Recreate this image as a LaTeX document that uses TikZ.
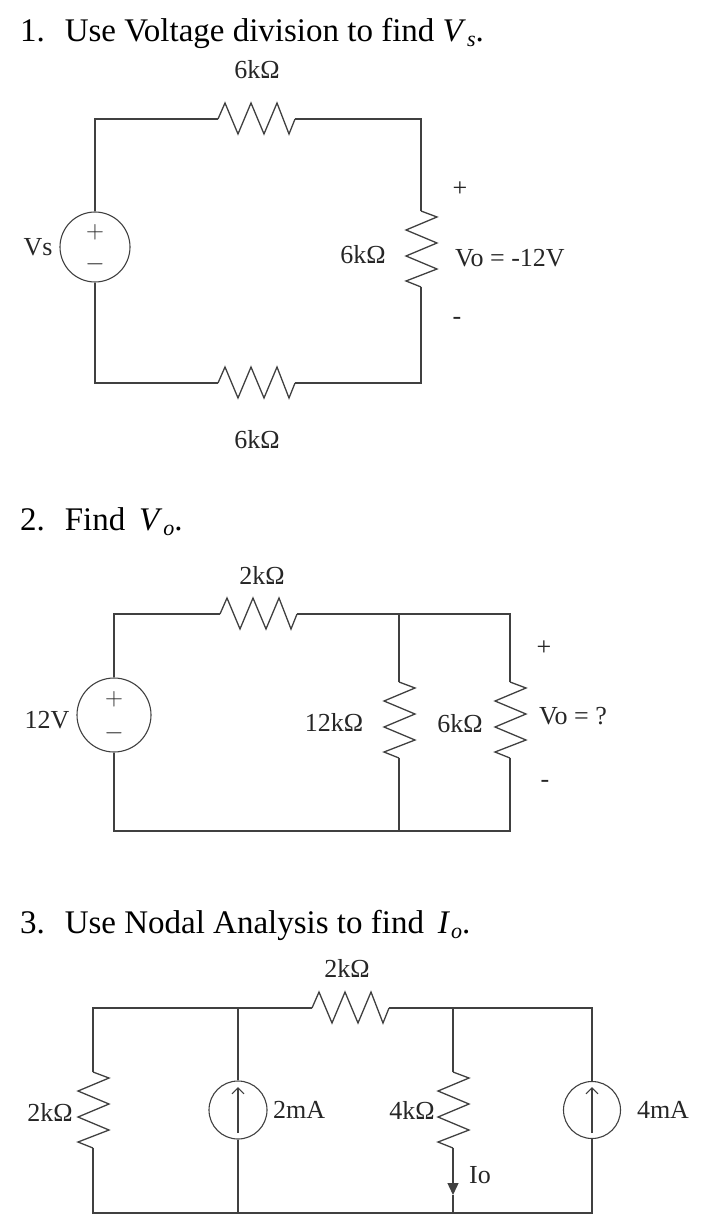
\documentclass[tikz,border=0pt]{standalone}
\usepackage{fontspec}
\setmainfont{Liberation Serif}
\usetikzlibrary{arrows.meta}
\newcommand{\subit}[1]{\kern1pt\raisebox{-5pt}{\fontsize{22}{24}\selectfont\textit{#1}}}

\begin{document}
\begin{tikzpicture}[
  x=1pt, y=-1pt,
  wire/.style={draw=black!75, line width=1.3pt},
  lbl/.style={font=\fontsize{26}{28}\selectfont, text=black!85, inner sep=0pt},
  sign/.style={font=\fontsize{24}{24}\selectfont, text=black!85, inner sep=0pt},
  head/.style={font=\fontsize{33}{38}\selectfont, anchor=base west, inner sep=0pt},
  vsrc/.style={circle, draw=black!75, line width=1.1pt, minimum size=#1, inner sep=0pt},
  isrc/.style={circle, draw=black!75, line width=1.1pt, minimum size=#1, inner sep=0pt},
  hres/.pic={\draw[wire] (0,0) -- (7,-16) -- (20,15) -- (33,-16) -- (46,15) -- (59,-16) -- (71,15) -- (77,0);
    \coordinate (-a) at (0,0); \coordinate (-b) at (77,0);},
  vres/.pic={\draw[wire] (0,0) -- (16,6) -- (-15,19) -- (16,32) -- (-15,45) -- (16,58) -- (-15,70) -- (0,76);
    \coordinate (-a) at (0,0); \coordinate (-b) at (0,76);}
]
\useasboundingbox (0,0) rectangle (716,1230);

% Problem 1
\node[head] (t1) at (20,42) {1.\hspace{0.6em}Use Voltage division to find \textit{V}\subit{s}.};
\coordinate (a1) at (95,119);
\coordinate (b1) at (421,119);
\coordinate (c1) at (421,383);
\coordinate (d1) at (95,383);
\node[vsrc=70pt] (vs) at (95,247) {};
\node[sign] at ([yshift=15pt]vs.center) {$+$};
\node[sign] at ([yshift=-17pt]vs.center) {$-$};
\pic (r1) at (218,119) {hres};
\pic (r2) at (421,211) {vres};
\pic (r3) at (218,383) {hres};
\draw[wire] (vs.north) -- (a1) -- (r1-a);
\draw[wire] (r1-b) -- (b1) -- (r2-a);
\draw[wire] (r2-b) -- (c1) -- (r3-b);
\draw[wire] (r3-a) -- (d1) -- (vs.south);
\node[lbl] at (257,70) {6kΩ};
\node[lbl] at (38,247) {Vs};
\node[lbl] at (363,255) {6kΩ};
\node[lbl] at (460,189) {+};
\node[lbl] at (510,258) {Vo = -12V};
\node[lbl] at (457,321) {-};
\node[lbl] at (257,440) {6kΩ};

% Problem 2
\node[head] (t2) at (20,530) {2.\hspace{0.6em}Find\, \textit{V}\subit{o}.};
\coordinate (a2) at (114,614);
\coordinate (m2) at (399,614);
\coordinate (b2) at (510,614);
\coordinate (c2) at (510,831);
\coordinate (n2) at (399,831);
\coordinate (d2) at (114,831);
\node[vsrc=74pt] (v12) at (114,715) {};
\node[sign] at ([yshift=16pt]v12.center) {$+$};
\node[sign] at ([yshift=-18pt]v12.center) {$-$};
\pic (r4) at (220,614) {hres};
\pic (r5) at (399,682) {vres};
\pic (r6) at (510,682) {vres};
\draw[wire] (v12.north) -- (a2) -- (r4-a);
\draw[wire] (r4-b) -- (m2) -- (b2) -- (r6-a);
\draw[wire] (m2) -- (r5-a);
\draw[wire] (r5-b) -- (n2);
\draw[wire] (r6-b) -- (c2) -- (d2) -- (v12.south);
\node[lbl] at (262,575) {2kΩ};
\node[lbl] at (47,720) {12V};
\node[lbl] at (334,722) {12kΩ};
\node[lbl] at (460,724) {6kΩ};
\node[lbl] at (544,648) {+};
\node[lbl] at (573,716) {Vo = ?};
\node[lbl] at (545,784) {-};

% Problem 3
\node[head] (t3) at (20,933) {3.\hspace{0.6em}Use Nodal Analysis to find\, \textit{I}\subit{o}.};
\coordinate (a3) at (93,1008);
\coordinate (m3) at (238,1008);
\coordinate (p3) at (453,1008);
\coordinate (b3) at (592,1008);
\coordinate (c3) at (592,1213);
\coordinate (q3) at (453,1213);
\coordinate (n3) at (238,1213);
\coordinate (d3) at (93,1213);
\coordinate (io) at (453,1195);
\node[isrc=58pt] (i2) at (238,1110) {};
\node[isrc=57pt] (i4) at (592,1110) {};
\draw[-{Straight Barb[length=6pt,width=12pt]}, line width=1.1pt, black!75] ([yshift=-23pt]i2.center) -- ([yshift=23pt]i2.center);
\draw[-{Straight Barb[length=6pt,width=12pt]}, line width=1.1pt, black!75] ([yshift=-23pt]i4.center) -- ([yshift=23pt]i4.center);
\pic (r7) at (93,1072) {vres};
\pic (r8) at (312,1008) {hres};
\pic (r9) at (453,1072) {vres};
\draw[wire] (r7-a) -- (a3) -- (m3) -- (r8-a);
\draw[wire] (r8-b) -- (p3) -- (b3) -- (i4.north);
\draw[wire] (m3) -- (i2.north);
\draw[wire] (p3) -- (r9-a);
\draw[wire, -{Triangle[length=12pt,width=11pt]}] (r9-b) -- (io);
\draw[wire] (io) -- (q3);
\draw[wire] (i4.south) -- (c3) -- (d3) -- (r7-b);
\draw[wire] (i2.south) -- (n3);
\node[lbl] at (347,968) {2kΩ};
\node[lbl] at (50,1112) {2kΩ};
\node[lbl, anchor=west] at (273,1110) {2mA};
\node[lbl] at (412,1110) {4kΩ};
\node[lbl] at (663,1110) {4mA};
\node[lbl] at (480,1175) {Io};
\end{tikzpicture}
\end{document}
